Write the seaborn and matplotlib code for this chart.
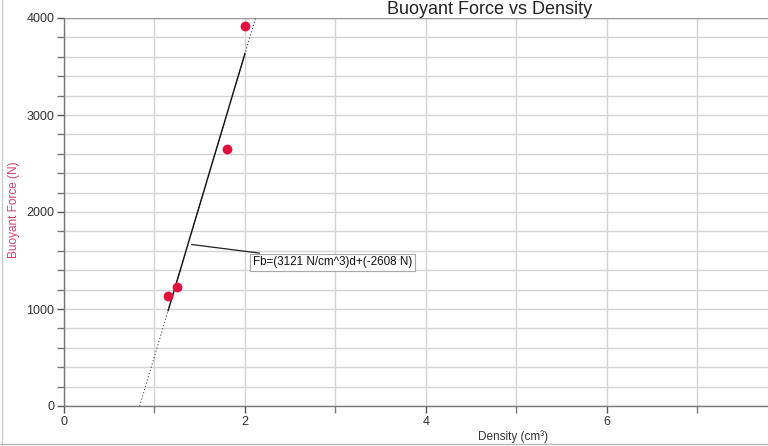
import numpy as np
import pandas as pd
import matplotlib
matplotlib.use("Agg")
import matplotlib.pyplot as plt
from matplotlib.ticker import MultipleLocator
from matplotlib.lines import Line2D
import seaborn as sns

# Data
density = [1.15, 1.25, 1.80, 2.00]
force = [1134, 1227, 2650, 3918]
slope = 3121
intercept = -2608
fit_label = "Fb=(3121 N/cm^3)d+(-2608 N)"
title = "Buoyant Force vs Density"
xlabel = "Density (cm³)"
ylabel = "Buoyant Force (N)"
x_ticks = [0, 2, 4, 6]
y_ticks = [0, 1000, 2000, 3000, 4000]

sns.set_theme(style="white")
plt.rcParams['font.family'] = ['Liberation Sans', 'DejaVu Sans']

fig = plt.figure(figsize=(7.68, 4.46), dpi=100)
ax = fig.add_axes([64/768, 40/446, 1 - 64/768, (406-18)/446])

xmin, xmax = 0, 7.78
ymin, ymax = 0, 4000
ax.set_xlim(xmin, xmax)
ax.set_ylim(ymin, ymax)

# grid
ax.xaxis.set_major_locator(MultipleLocator(2))
ax.xaxis.set_minor_locator(MultipleLocator(1))
ax.yaxis.set_major_locator(MultipleLocator(1000))
ax.yaxis.set_minor_locator(MultipleLocator(200))
ax.grid(which='both', color='#d4d4d4', linewidth=1.0)
ax.set_axisbelow(True)

# fit line: dotted full extent, solid across data range
d = pd.DataFrame({"x": density, "y": force})
x_lo = (ymin - intercept) / slope
x_hi = (ymax - intercept) / slope
ext = pd.DataFrame({"x": [x_lo, x_hi]})
ext["y"] = slope * ext["x"] + intercept
sns.lineplot(data=ext, x="x", y="y", ax=ax, color='#444444', linewidth=0.8,
             linestyle=(0, (1, 2)), estimator=None, sort=False)
solid = pd.DataFrame({"x": [min(density), max(density)]})
solid["y"] = slope * solid["x"] + intercept
sns.lineplot(data=solid, x="x", y="y", ax=ax, color='#111111', linewidth=1.0,
             estimator=None, sort=False)

sns.scatterplot(data=d, x="x", y="y", ax=ax, color='#e0113c', s=50,
                edgecolor='#e0113c', linewidth=0, zorder=5)

# annotation
ax.annotate(fit_label, xy=(1.41, 1665), xytext=(2.09, 1480),
            fontsize=8.4, color='#111111', va='center', ha='left',
            bbox=dict(boxstyle='square,pad=0.25', fc='white', ec='#a8a8a8', lw=0.8),
            arrowprops=dict(arrowstyle='-', color='#222222', lw=0.9, shrinkA=0, shrinkB=0))

ax.set_xticks(x_ticks)
ax.set_yticks(y_ticks)
ax.tick_params(axis='both', which='major', labelsize=9, labelcolor='#333333',
               length=5, width=1, color='#555555', direction='out', pad=2,
               left=True, bottom=True)
ax.tick_params(axis='both', which='minor', length=5, width=1, color='#777777',
               direction='out', left=True, bottom=True)

ax.set_xlabel("")
ax.set_ylabel("")
for s in ['top', 'right']:
    ax.spines[s].set_visible(False)
for s in ['left', 'bottom']:
    ax.spines[s].set_color('#777777')
    ax.spines[s].set_linewidth(1.0)
ax.axhline(ymax, color='#999999', lw=1.0, zorder=1)

fig.text(490/768, 1 - 9/446, title, fontsize=13, ha='center', va='center', color='#222222')
fig.text(513/768, 1 - 437/446, xlabel, fontsize=8.5, ha='center', va='center', color='#333333')
fig.text(14/768, 1 - 210/446, ylabel, fontsize=8.5, ha='center', va='center',
         rotation=90, color='#d0426e')

# frame lines of the screenshot
fig.add_artist(Line2D([2/768, 2/768], [0, 1], color='#cccccc', lw=1))
fig.add_artist(Line2D([0, 1], [2/446, 2/446], color='#bbbbbb', lw=1))

fig.savefig("out.png", dpi=100)
